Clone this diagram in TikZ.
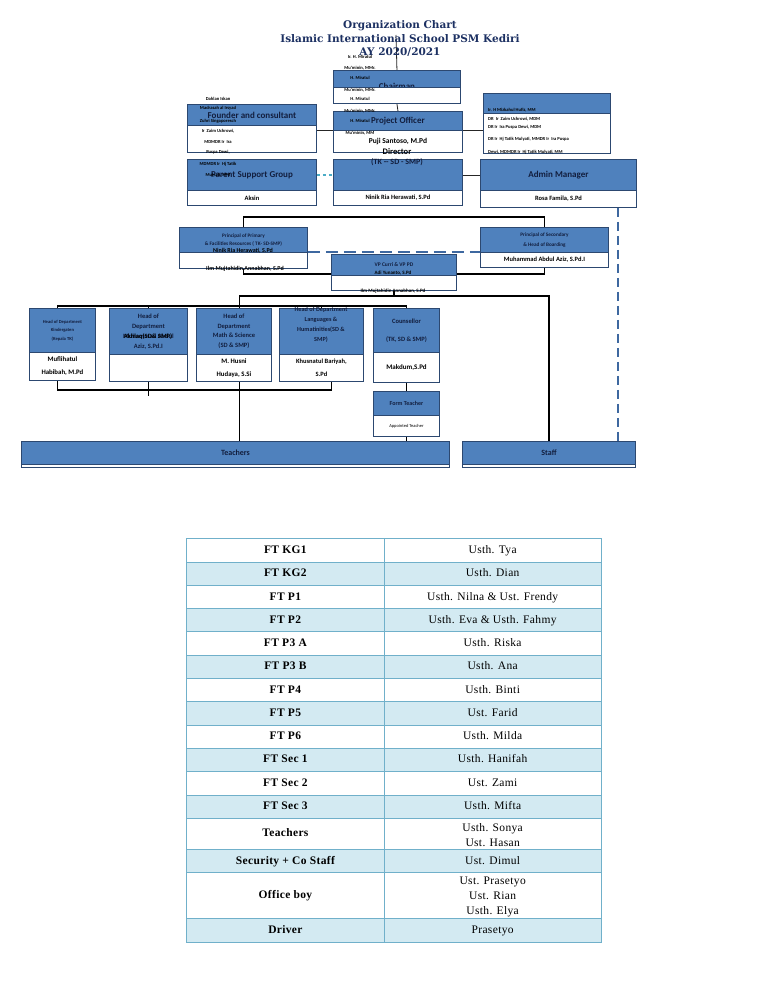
\documentclass[tikz,border=0pt]{standalone}
\usepackage{fontspec}
\newfontfamily\chartfont{Carlito}
\newfontfamily\tabfont[LetterSpace=3]{Liberation Serif}
\newfontfamily\titlefont{DejaVu Serif}
\usetikzlibrary{calc,backgrounds}
\definecolor{boxblue}{RGB}{79,129,189}
\definecolor{boxline}{RGB}{44,72,112}
\definecolor{hdtext}{RGB}{18,30,62}
\definecolor{titleblue}{RGB}{28,48,98}
\definecolor{tabblue}{RGB}{211,234,242}
\definecolor{tabline}{RGB}{112,176,202}
\definecolor{dashblue}{RGB}{62,104,160}
\definecolor{dashteal}{RGB}{75,172,198}
\newcommand\fz[2]{\fontsize{#1}{#2}\selectfont}
\tikzset{
  hd/.style={rectangle,draw=boxline,line width=0.9pt,fill=boxblue,anchor=north west,
             inner sep=0pt,align=center,text=hdtext,font=\chartfont},
  nm/.style={hd,fill=white,text=black},
  txt/.style={inner sep=0pt,align=center,text=hdtext,font=\chartfont},
  stray/.style={inner sep=0pt,font=\chartfont\bfseries\fz{4.6}{5.5}},
  ttl/.style={inner sep=0pt,text=titleblue,font=\titlefont\bfseries\fz{10.5}{12}},
  conn/.style={line width=1.6pt,black},
  thinln/.style={line width=0.8pt,black!85},
  cellL/.style={rectangle,draw=tabline,line width=0.8pt,anchor=north west,inner sep=0pt,
                minimum width=198,align=center,font=\tabfont\bfseries\fz{11.5}{15}},
  cellR/.style={cellL,minimum width=216.5,font=\tabfont\fz{11.5}{15}},
}

\begin{document}
\begin{tikzpicture}[x=1pt,y=-1pt]
\useasboundingbox (0,0) rectangle (768,1006);

% Title
\node[ttl] (t1) at (400,26) {Organization Chart};
\node[ttl] (t2) at (400,39) {Islamic International School PSM Kediri};
\node[ttl] (t3) at (400,52) {AY 2020/2021};
\coordinate (ttop) at (396,35);

% Board (top)
\node[hd,minimum width=127,minimum height=17] (chairh) at (333,70) {};
\node[txt,font=\chartfont\bfseries\fz{9}{10}] (chairt) at (397,86) {Chairman};
\node[nm,minimum width=127,minimum height=16] (chairw) at (333,87) {};
\node[hd,minimum width=129,minimum height=19,font=\chartfont\bfseries\fz{9}{10}] (proh) at (333,111) {Project Officer};
\node[nm,minimum width=129,minimum height=22,font=\chartfont\bfseries\fz{7.5}{9}] (prow) at (333,130) {Puji Santoso, M.Pd};
\node[txt,text=black,font=\chartfont\bfseries\fz{8.5}{10}] (dirt) at (397,152) {Director};
\node[hd,minimum width=129,minimum height=21,font=\chartfont\bfseries\fz{9}{10}] (fndh) at (187,104) {Founder and consultant};
\node[nm,minimum width=129,minimum height=27] (fndw) at (187,125) {};
\node[hd,minimum width=127,minimum height=20] (advh) at (483,93) {};
\node[nm,minimum width=127,minimum height=40] (advw) at (483,113) {};

% Management row
\node[hd,minimum width=129,minimum height=31,font=\chartfont\bfseries\fz{9}{10}] (psgh) at (187,159) {Parent Support Group};
\node[nm,minimum width=129,minimum height=15,font=\chartfont\bfseries\fz{6.5}{8}] (psgw) at (187,190) {Aksin};
\node[hd,minimum width=129,minimum height=31] (dirh) at (333,159) {};
\node[txt,font=\chartfont\bfseries\fz{8}{9}] (dirs) at (397,162) {(TK -- SD - SMP)};
\node[nm,minimum width=129,minimum height=15,font=\chartfont\bfseries\fz{6.5}{8}] (dirw) at (333,190) {Ninik Ria Herawati, S.Pd};
\node[hd,minimum width=156,minimum height=31,font=\chartfont\bfseries\fz{9}{10}] (admh) at (480,159) {Admin Manager};
\node[nm,minimum width=156,minimum height=17,font=\chartfont\bfseries\fz{6.5}{8}] (admw) at (480,190) {Rosa Famila, S.Pd};

% Principals and VP
\node[hd,minimum width=128,minimum height=25,font=\chartfont\bfseries\fz{5.2}{8}] (prih) at (179,227) {Principal of Primary\\\& Facilities Resources ( TK- SD-SMP)};
\node[nm,minimum width=128,minimum height=16] (priw) at (179,252) {};
\node[hd,minimum width=128,minimum height=25,font=\chartfont\bfseries\fz{5.2}{10}] (sech) at (480,227) {Principal of Secondary\\\& Head of Boarding};
\node[nm,minimum width=128,minimum height=15,font=\chartfont\bfseries\fz{6.5}{8}] (secw) at (480,252) {Muhammad Abdul Aziz, S.Pd.I};
\node[hd,minimum width=125,minimum height=21,font=\chartfont\bfseries\fz{5.5}{7}] (vph) at (331,254) {VP Curri \& VP PD};
\node[nm,minimum width=125,minimum height=15] (vpw) at (331,275) {};

% Heads of department
\node[hd,minimum width=66,minimum height=44,font=\chartfont\bfseries\fz{4.6}{8.5}] (d1h) at (29,308) {Head of Department\\Kindergaten\\(Kepala TK)};
\node[nm,minimum width=66,minimum height=28,font=\chartfont\bfseries\fz{6.8}{13}] (d1w) at (29,352) {Muflihatul\\Habibah, M.Pd};
\node[hd,minimum width=78,minimum height=46,font=\chartfont\bfseries\fz{6.5}{10}] (d2h) at (109,308) {Head of\\Department\\Muhammad Abdul\\Aziz, S.Pd.I};
\node[nm,minimum width=78,minimum height=27] (d2w) at (109,354) {};
\node[hd,minimum width=75,minimum height=46,font=\chartfont\bfseries\fz{6.5}{9.5}] (d3h) at (196,308) {Head of\\Department\\Math \& Science\\(SD \& SMP)};
\node[nm,minimum width=75,minimum height=27,font=\chartfont\bfseries\fz{6.8}{13}] (d3w) at (196,354) {M. Husni\\Hudaya, S.Si};
\node[hd,minimum width=84,minimum height=46] (d4h) at (279,308) {};
\node[txt,font=\chartfont\bfseries\fz{6.2}{10}] (d4t) at (321,325) {Head of Department\\Languages \&\\Humatinities(SD \&\\SMP)};
\node[nm,minimum width=84,minimum height=27,font=\chartfont\bfseries\fz{6.5}{13}] (d4w) at (279,354) {Khusnatul Bariyah,\\S.Pd};
\node[hd,minimum width=66,minimum height=44,font=\chartfont\bfseries\fz{6.5}{9}] (d5h) at (373,308) {Counsellor\\[9pt](TK, SD \& SMP)};
\node[nm,minimum width=66,minimum height=30,font=\chartfont\bfseries\fz{7}{9}] (d5w) at (373,352) {Makdum,S.Pd};
\node[hd,minimum width=66,minimum height=24,font=\chartfont\bfseries\fz{6}{8}] (fth) at (373,391) {Form Teacher};
\node[nm,minimum width=66,minimum height=21,font=\chartfont\fz{4.5}{6}] (ftw) at (373,415) {Appointed Teacher};

% Teachers and staff
\node[hd,minimum width=428,minimum height=23,font=\chartfont\bfseries\fz{8}{9}] (tch) at (21,441) {Teachers};
\node[nm,minimum width=428,minimum height=3] (tchw) at (21,464) {};
\node[hd,minimum width=173,minimum height=23,font=\chartfont\bfseries\fz{8}{9}] (stf) at (462,441) {Staff};
\node[nm,minimum width=173,minimum height=3] (stfw) at (462,464) {};

% Overlapping names
\foreach \y/\t [count=\i] in {57/{Ir. H. Miratul},68/{Mu'minin, MMr.},78/{H. Miratul},90/{Mu'minin, MMr.},
    99/{H. Miratul},111/{Mu'minin, MMr.},121/{H. Miratul},133/{Mu'minin, MM}}
  \node[stray] (cs\i) at (360,\y) {\t};
\foreach \y/\t [count=\i] in {99/{Dahlan Iskan},108/{Madrasah al Irsyad},121/{Zuhri Singaporesch},131/{Ir~ Zaim Uchrowi,},
    142/{MDMDR Ir~ Ira},152/{Puspa Dewi,},164/{MDMDR Ir~ Hj Tatik},175/{Mulyati, MM}}
  \node[stray] (fs\i) at (218,\y) {\t};
\foreach \y/\t [count=\i] in {110/{Ir. H Mizkahul Hufiz, MM},119/{DR~ Ir~ Zaim Uchrowi, MDM},127/{DR Ir~ Ira Puspa Dewi, MDM},
    139/{DR Ir~ Hj Tatik Mulyati, MMDR Ir~ Ira Puspa},152/{Dewi, MDMDR Ir~ Hj Tatik Mulyati, MM}}
  \node[stray,anchor=west] (as\i) at (488,\y) {\t};
\node[stray,font=\chartfont\bfseries\fz{6}{7}] (ps1) at (243,251) {Ninik Ria Herawati, S.Pd};
\node[stray,font=\chartfont\bfseries\fz{6}{7}] (ps2) at (245,269) {Ilm Mujtahidin Annabhan, S.Pd};
\node[stray,font=\chartfont\bfseries\fz{5}{6}] (vs1) at (393,273) {Adi Yunanto, S.Pd};
\node[stray,font=\chartfont\bfseries\fz{5}{6}] (vs2) at (393,291) {Ilm Mujtahidin Annabhan, S.Pd};
\node[stray,font=\chartfont\bfseries\fz{6.5}{7}] (ds1) at (148,337) {Akhlaq(SD\& SMP)};

% FT table
\foreach \ya/\h/\lt/\rt/\fl [count=\i] in {
  538/23.5/{FT KG1}/{Usth. Tya}/white,
  561.5/23.5/{FT KG2}/{Usth. Dian}/tabblue,
  585/23.2/{FT P1}/{Usth. Nilna \& Ust. Frendy}/white,
  608.2/23.2/{FT P2}/{Usth. Eva \& Usth. Fahmy}/tabblue,
  631.4/23.3/{FT P3 A}/{Usth. Riska}/white,
  654.7/23.3/{FT P3 B}/{Usth. Ana}/tabblue,
  678/23.3/{FT P4}/{Usth. Binti}/white,
  701.3/23.3/{FT P5}/{Ust. Farid}/tabblue,
  724.6/23.3/{FT P6}/{Usth. Milda}/white,
  747.9/23.3/{FT Sec 1}/{Usth. Hanifah}/tabblue,
  771.2/23.3/{FT Sec 2}/{Ust. Zami}/white,
  794.5/23.3/{FT Sec 3}/{Usth. Mifta}/tabblue,
  817.8/31.5/{Teachers}/{Usth. Sonya\\Ust. Hasan}/white,
  849.3/23/{Security + Co Staff}/{Ust. Dimul}/tabblue,
  872.3/46/{Office boy}/{Ust. Prasetyo\\Ust. Rian\\Usth. Elya}/white,
  918.3/23.4/{Driver}/{Prasetyo}/tabblue}
{
  \node[cellL,fill=\fl,minimum height=\h] (l\i) at (186,\ya) {\strut\lt};
  \node[cellR,fill=\fl,minimum height=\h] (r\i) at (384,\ya) {\strut\rt};
}

% Wiring
\begin{scope}[on background layer]
\fill[white] (0,0) rectangle (768,1006);
\draw[thinln] (ttop) -- (chairh.north);
\draw[thinln] (chairw.south) -- (proh.north);
\draw[thinln] (fndw.east |- prow.north) -- (advw.west |- prow.north);
\draw[dashteal,dashed,line width=1.2pt] (psgh.east) -- (dirh.west);
\draw[thinln] (dirh.east) -- (admh.west);

\coordinate (bus1) at ($(dirw.south)+(0,11)$);
\draw[conn] (prih.north) |- (bus1) -| (sech.north);
\draw[dashblue,line width=1.3pt,dash pattern=on 12pt off 6pt] (priw.north east) -- (secw.north west);
\coordinate (bus2) at ($(vph.south)+(0,-2)$);
\draw[conn] (priw.south) |- (bus2) -| (secw.south);

\coordinate (bus3) at ($(vpw.south)+(0,5)$);
\draw[conn] (vpw.south) -- (bus3);
\coordinate (d3top) at ($(d3h.north)+(5.5,0)$);
\draw[conn] (d3top) |- (bus3) -| (stf.north);
\coordinate (bus4) at ($(d3top)+(0,-2)$);
\coordinate (d1top) at ($(d1h.north)+(-5,0)$);
\draw[conn] (d1top) |- (bus4) -| (d5h.north);
\draw[conn] (d2h.north) -- (d2h.north |- bus4);
\draw[conn] (d4h.north) -- (d4h.north |- bus4);

\coordinate (bus5) at ($(d3w.south)+(5.5,8)$);
\coordinate (d1bot) at ($(d1w.south)+(-5,0)$);
\coordinate (d4bot) at ($(d4w.south)+(10,0)$);
\coordinate (d3bot) at ($(d3w.south)+(5.5,0)$);
\draw[conn] (d1bot) |- (bus5) -| (d4bot);
\draw[conn] (d2w.south) -- ($(d2w.south |- bus5)+(0,6)$);
\draw[conn] (d3bot) -- (d3bot |- tch.north);
\draw[conn,line width=1.2pt] (d5w.south) -- (fth.north);
\draw[conn] (ftw.south) -- (ftw.south |- tch.north);

\coordinate (admdash) at ($(admw.south east)+(-19,0)$);
\draw[dashblue,line width=1.2pt,dash pattern=on 9pt off 5pt] (admdash) -- (admdash |- stf.north);
\end{scope}
\end{tikzpicture}
\end{document}
